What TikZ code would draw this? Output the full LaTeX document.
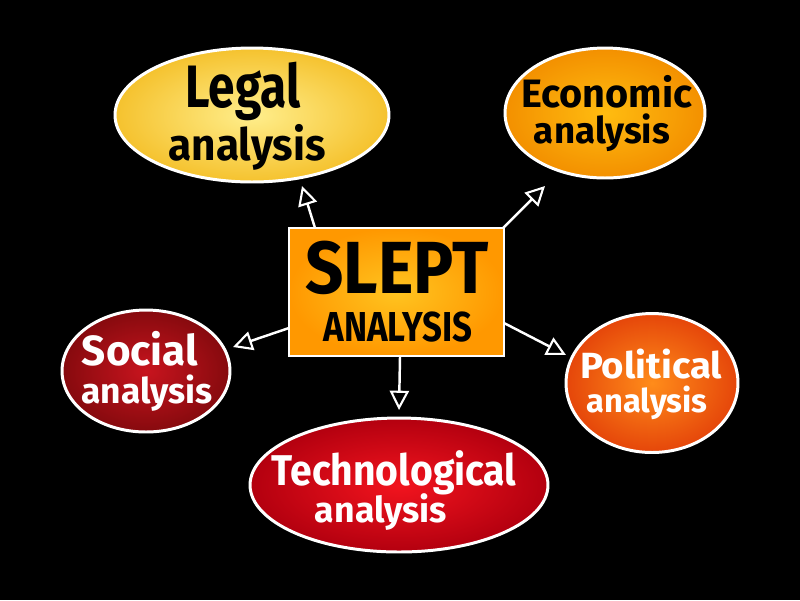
\documentclass[tikz,border=0pt]{standalone}
\usepackage{fontspec}
\setmainfont{Fira Sans}
\usetikzlibrary{shapes.geometric,arrows.meta}
\newlength\px \setlength\px{0.02cm}
\newcommand\hw[3]{\scalebox{1}[#2]{\resizebox{#1\px}{!}{\bfseries #3}}}
\definecolor{legIn}{HTML}{FFEE8C}\definecolor{legOut}{HTML}{F5C22E}
\definecolor{ecoIn}{HTML}{FFBC10}\definecolor{ecoOut}{HTML}{F39000}
\definecolor{boxIn}{HTML}{FFC420}\definecolor{boxOut}{HTML}{FF9800}
\definecolor{socIn}{HTML}{C8141E}\definecolor{socOut}{HTML}{860A0E}
\definecolor{tecIn}{HTML}{F2141E}\definecolor{tecOut}{HTML}{B3000F}
\definecolor{polIn}{HTML}{FF8C1A}\definecolor{polOut}{HTML}{E5460A}
\begin{document}
\begin{tikzpicture}[x=0.02cm,y=-0.02cm,
  bubble/.style={ellipse, draw=white, line width=1.7pt, inner sep=0pt},
  card/.style={rectangle, draw=white, line width=1.5pt, inner sep=0pt},
  txt/.style={anchor=base, inner sep=0pt, text=#1},
  conn/.style={draw=white, line width=1.4pt, -{Triangle[open,length=11pt,width=11pt,line width=1.2pt]}}]
\fill[black] (0,0) rectangle (800,600);
\useasboundingbox (0,0) rectangle (800,600);
% bubbles
\node[bubble, minimum width=5.48cm, minimum height=2.68cm, inner color=legIn, outer color=legOut] (legal) at (252,115) {};
\node[bubble, minimum width=4.0cm, minimum height=2.6cm, inner color=ecoIn, outer color=ecoOut] (eco) at (605,113) {};
\node[card, minimum width=4.3cm, minimum height=2.56cm, inner color=boxIn, outer color=boxOut] (box) at (396.5,292) {};
\node[bubble, minimum width=3.36cm, minimum height=2.44cm, inner color=socIn, outer color=socOut] (soc) at (146,371) {};
\node[bubble, minimum width=5.96cm, minimum height=2.68cm, inner color=tecIn, outer color=tecOut] (tec) at (399,485) {};
\node[bubble, minimum width=3.44cm, minimum height=2.78cm, inner color=polIn, outer color=polOut] (pol) at (652,383) {};
% labels
\node[txt=black] (legalA) at (243,107) {\hw{115}{1.25}{Legal}};
\node[txt=black] (legalB) at (247,160) {\hw{157}{1.05}{analysis}};
\node[txt=black] (ecoA) at (607,107) {\hw{171}{1.0}{Economic}};
\node[txt=black] (ecoB) at (602,143) {\hw{136}{1.0}{analysis}};
\node[txt=black] (boxA) at (397,293) {\hw{183}{1.1}{SLEPT}};
\node[txt=black] (boxB) at (398,341) {\hw{149}{1.2}{ANALYSIS}};
\node[txt=white] (socA) at (140,365) {\hw{116}{1.0}{Social}};
\node[txt=white] (socB) at (147,403) {\hw{131}{1.0}{analysis}};
\node[txt=white] (tecA) at (394,485) {\hw{245}{1.1}{Technological}};
\node[txt=white] (tecB) at (381,522) {\hw{132}{1.0}{analysis}};
\node[txt=white] (polA) at (651,378) {\hw{142}{0.95}{Political}};
\node[txt=white] (polB) at (647,412) {\hw{121}{1.0}{analysis}};
% connectors
\coordinate (sL) at (315,228); \coordinate (tL) at (302,186);
\coordinate (sE) at (503,228); \coordinate (tE) at (545,186);
\coordinate (sS) at (289,328); \coordinate (tS) at (233,347);
\coordinate (sT) at (400,357); \coordinate (tT) at (399,410);
\coordinate (sP) at (504,323); \coordinate (tP) at (566,355);
\draw[conn] (sL) -- (tL);
\draw[conn] (sE) -- (tE);
\draw[conn] (sS) -- (tS);
\draw[conn] (sT) -- (tT);
\draw[conn] (sP) -- (tP);
\end{tikzpicture}
\end{document}
